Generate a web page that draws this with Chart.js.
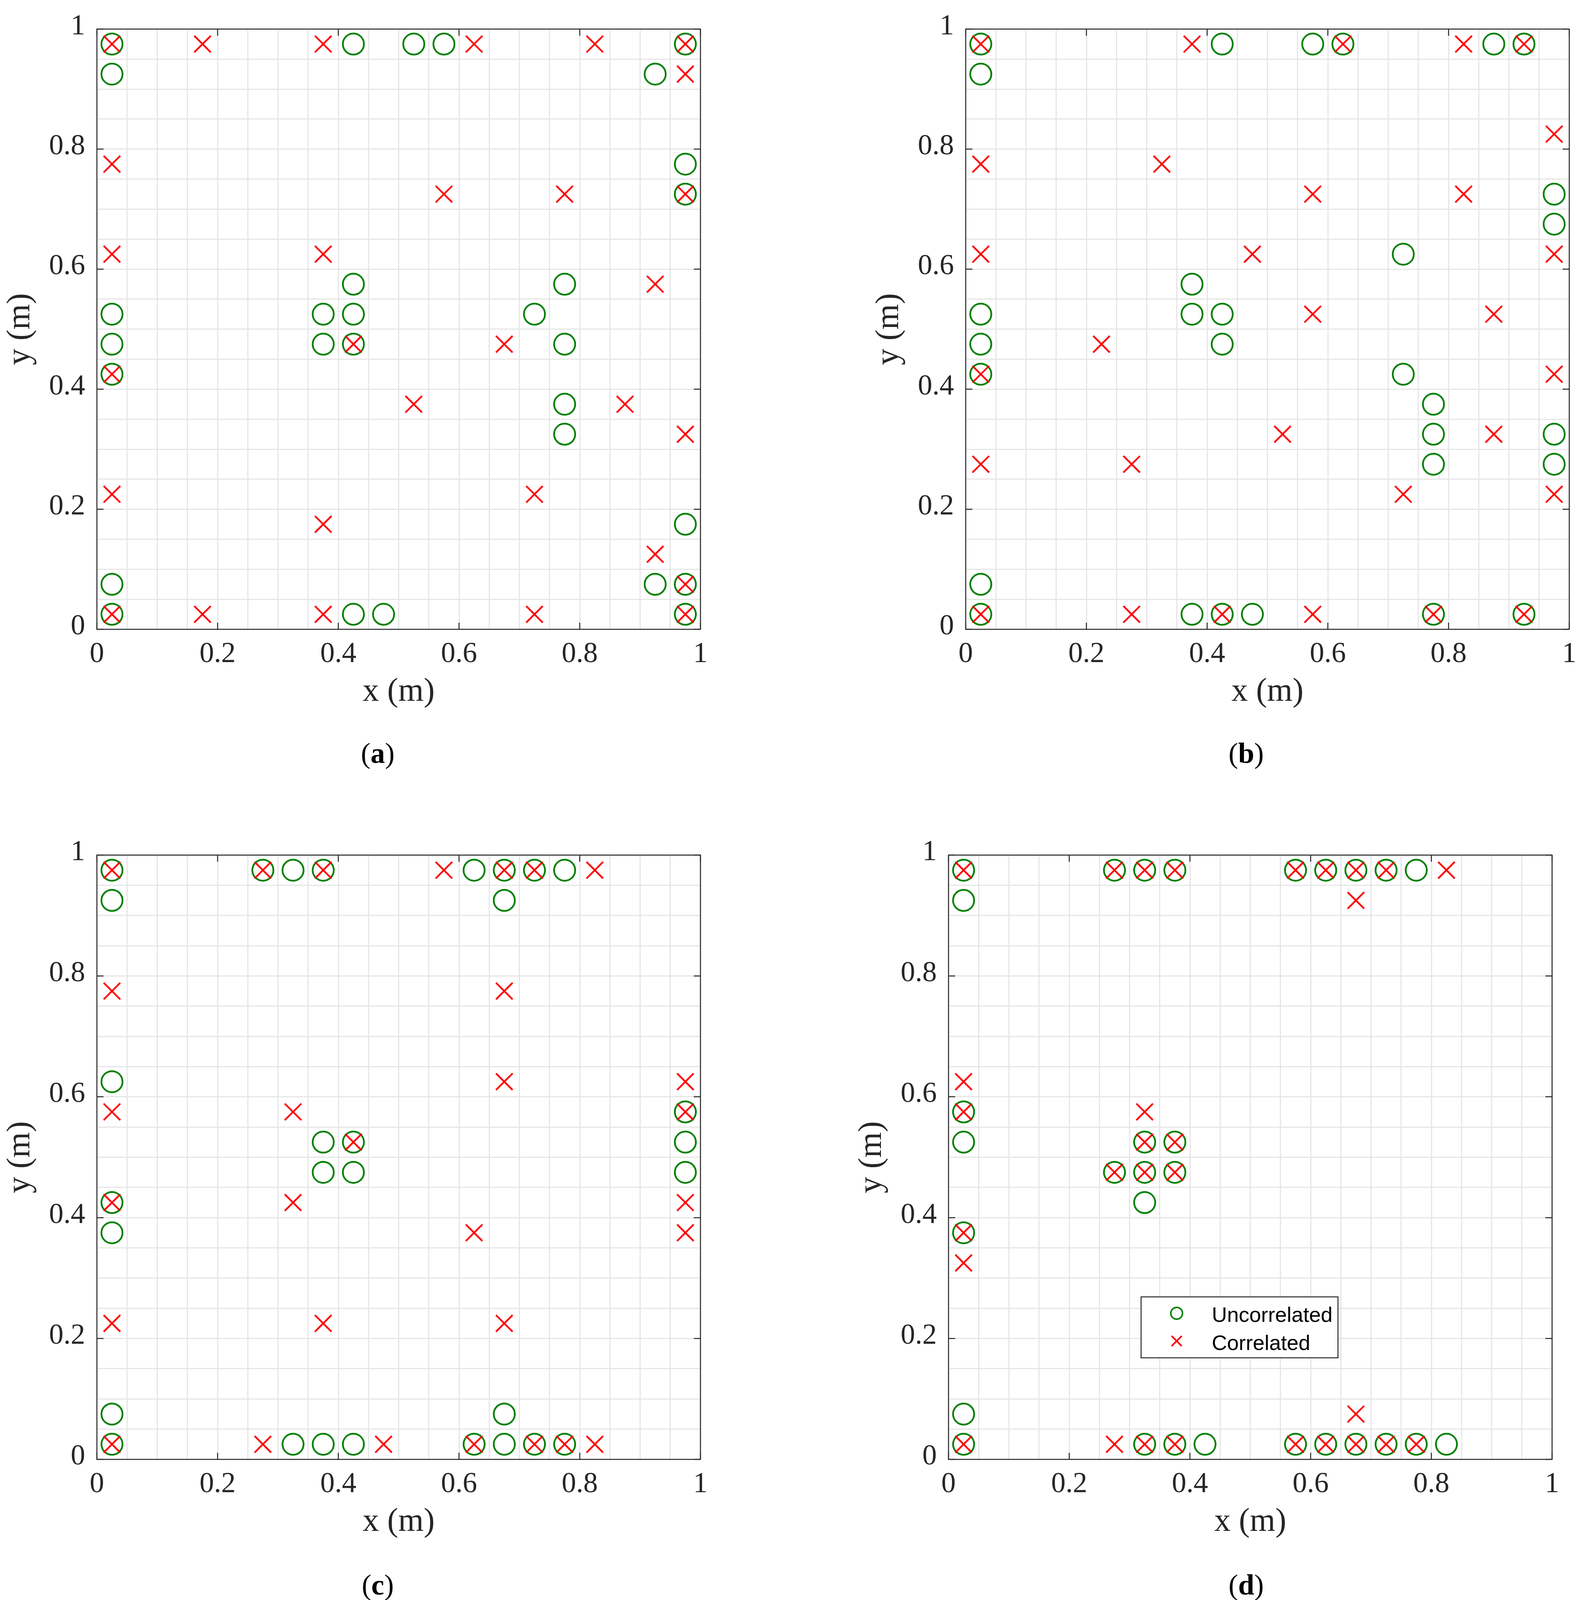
<!DOCTYPE html>
<html>
<head>
<meta charset="utf-8">
<title>Sensor placement</title>
<script src="https://cdn.jsdelivr.net/npm/chart.js@4.4.1/dist/chart.umd.min.js"></script>
<style>
html, body { margin: 0; padding: 0; background: #fff; }
body { width: 4065px; height: 4114px; position: relative; overflow: hidden; }
canvas { position: absolute; }
.cap { position: absolute; font-family: "Liberation Serif", serif; font-size: 74px; color: #000; transform: translate(-50%, -50%); white-space: nowrap; }
</style>
</head>
<body>
<canvas id="panelA" width="2033" height="1880" style="left:0px;top:0px"></canvas>
<canvas id="panelB" width="2032" height="1880" style="left:2033px;top:0px"></canvas>
<canvas id="panelC" width="2033" height="1948" style="left:0px;top:2057px"></canvas>
<canvas id="panelD" width="2032" height="1948" style="left:2033px;top:2057px"></canvas>
<div class="cap" style="left:967px;top:1928px">(<b>a</b>)</div>
<div class="cap" style="left:3190px;top:1928px">(<b>b</b>)</div>
<div class="cap" style="left:967px;top:4057px">(<b>c</b>)</div>
<div class="cap" style="left:3190px;top:4057px">(<b>d</b>)</div>
<script>
// axis ticks: grid every 0.05, labels every 0.2
const tickStep = 0.05;
const tickLabels = ['0', '0.2', '0.4', '0.6', '0.8', '1'];

// (x, y) sensor positions in metres
const aUncorrelated = [[0.025,0.975],[0.025,0.925],[0.425,0.975],[0.525,0.975],[0.575,0.975],[0.975,0.975],[0.925,0.925],[0.975,0.775],[0.975,0.725],[0.425,0.575],[0.375,0.525],[0.425,0.525],[0.375,0.475],[0.425,0.475],[0.775,0.575],[0.725,0.525],[0.775,0.475],[0.025,0.525],[0.025,0.475],[0.025,0.425],[0.775,0.375],[0.775,0.325],[0.975,0.175],[0.025,0.075],[0.925,0.075],[0.975,0.075],[0.025,0.025],[0.425,0.025],[0.475,0.025],[0.975,0.025]];
const aCorrelated = [[0.025,0.975],[0.175,0.975],[0.375,0.975],[0.625,0.975],[0.825,0.975],[0.975,0.975],[0.975,0.925],[0.025,0.775],[0.575,0.725],[0.775,0.725],[0.975,0.725],[0.025,0.625],[0.375,0.625],[0.925,0.575],[0.425,0.475],[0.675,0.475],[0.025,0.425],[0.525,0.375],[0.875,0.375],[0.975,0.325],[0.025,0.225],[0.725,0.225],[0.375,0.175],[0.925,0.125],[0.975,0.075],[0.025,0.025],[0.175,0.025],[0.375,0.025],[0.725,0.025],[0.975,0.025]];

const bUncorrelated = [[0.025,0.975],[0.425,0.975],[0.575,0.975],[0.625,0.975],[0.875,0.975],[0.925,0.975],[0.025,0.925],[0.975,0.725],[0.975,0.675],[0.725,0.625],[0.375,0.575],[0.375,0.525],[0.425,0.525],[0.425,0.475],[0.025,0.525],[0.025,0.475],[0.025,0.425],[0.725,0.425],[0.775,0.375],[0.775,0.325],[0.775,0.275],[0.975,0.325],[0.975,0.275],[0.025,0.075],[0.025,0.025],[0.375,0.025],[0.425,0.025],[0.475,0.025],[0.775,0.025],[0.925,0.025]];
const bCorrelated = [[0.025,0.975],[0.375,0.975],[0.625,0.975],[0.825,0.975],[0.925,0.975],[0.975,0.825],[0.025,0.775],[0.325,0.775],[0.575,0.725],[0.825,0.725],[0.025,0.625],[0.475,0.625],[0.975,0.625],[0.575,0.525],[0.875,0.525],[0.225,0.475],[0.025,0.425],[0.975,0.425],[0.525,0.325],[0.875,0.325],[0.025,0.275],[0.275,0.275],[0.725,0.225],[0.975,0.225],[0.025,0.025],[0.275,0.025],[0.425,0.025],[0.575,0.025],[0.775,0.025],[0.925,0.025]];

const cUncorrelated = [[0.025,0.975],[0.025,0.925],[0.275,0.975],[0.325,0.975],[0.375,0.975],[0.625,0.975],[0.675,0.975],[0.725,0.975],[0.775,0.975],[0.675,0.925],[0.025,0.625],[0.025,0.425],[0.025,0.375],[0.375,0.525],[0.425,0.525],[0.375,0.475],[0.425,0.475],[0.975,0.575],[0.975,0.525],[0.975,0.475],[0.025,0.075],[0.675,0.075],[0.025,0.025],[0.325,0.025],[0.375,0.025],[0.425,0.025],[0.625,0.025],[0.675,0.025],[0.725,0.025],[0.775,0.025]];
const cCorrelated = [[0.025,0.975],[0.275,0.975],[0.375,0.975],[0.575,0.975],[0.675,0.975],[0.725,0.975],[0.825,0.975],[0.025,0.775],[0.675,0.775],[0.675,0.625],[0.975,0.625],[0.025,0.575],[0.325,0.575],[0.975,0.575],[0.425,0.525],[0.025,0.425],[0.325,0.425],[0.975,0.425],[0.625,0.375],[0.975,0.375],[0.025,0.225],[0.375,0.225],[0.675,0.225],[0.025,0.025],[0.275,0.025],[0.475,0.025],[0.625,0.025],[0.725,0.025],[0.775,0.025],[0.825,0.025]];

const dUncorrelated = [[0.025,0.975],[0.025,0.925],[0.275,0.975],[0.325,0.975],[0.375,0.975],[0.575,0.975],[0.625,0.975],[0.675,0.975],[0.725,0.975],[0.775,0.975],[0.025,0.575],[0.025,0.525],[0.025,0.375],[0.325,0.525],[0.375,0.525],[0.275,0.475],[0.325,0.475],[0.375,0.475],[0.325,0.425],[0.025,0.075],[0.025,0.025],[0.325,0.025],[0.375,0.025],[0.425,0.025],[0.575,0.025],[0.625,0.025],[0.675,0.025],[0.725,0.025],[0.775,0.025],[0.825,0.025]];
const dCorrelated = [[0.025,0.975],[0.275,0.975],[0.325,0.975],[0.375,0.975],[0.575,0.975],[0.625,0.975],[0.675,0.975],[0.725,0.975],[0.825,0.975],[0.675,0.925],[0.025,0.625],[0.025,0.575],[0.325,0.575],[0.325,0.525],[0.375,0.525],[0.275,0.475],[0.325,0.475],[0.375,0.475],[0.025,0.375],[0.025,0.325],[0.675,0.075],[0.025,0.025],[0.275,0.025],[0.325,0.025],[0.375,0.025],[0.575,0.025],[0.625,0.025],[0.675,0.025],[0.725,0.025],[0.775,0.025]];

const seriesNames = ['Uncorrelated', 'Correlated'];

const GREEN = '#008000';
const RED = '#ff0000';
const AXIS = '#262626';
const SERIF = '"Liberation Serif", "Times New Roman", serif';
const Y_AXIS_WIDTH = 248;

Chart.defaults.font.family = SERIF;
Chart.defaults.color = AXIS;

function majorIndex(v) {
    const k = Math.round(v / tickStep);
    return (k % 4 === 0) ? k / 4 : -1;
}

// MATLAB style box with inward major ticks on all four sides
const boxPlugin = {
    id: 'boxAxes',
    afterDatasetsDraw(chart) {
        const { ctx, chartArea: a, scales } = chart;
        const len = 17;
        ctx.save();
        ctx.strokeStyle = AXIS;
        ctx.lineWidth = 2.5;
        ctx.beginPath();
        scales.x.ticks.forEach(t => {
            if (majorIndex(t.value) < 0) return;
            const px = scales.x.getPixelForValue(t.value);
            ctx.moveTo(px, a.bottom); ctx.lineTo(px, a.bottom - len);
            ctx.moveTo(px, a.top); ctx.lineTo(px, a.top + len);
        });
        scales.y.ticks.forEach(t => {
            if (majorIndex(t.value) < 0) return;
            const py = scales.y.getPixelForValue(t.value);
            ctx.moveTo(a.left, py); ctx.lineTo(a.left + len, py);
            ctx.moveTo(a.right, py); ctx.lineTo(a.right - len, py);
        });
        ctx.stroke();
        ctx.strokeRect(a.left, a.top, a.right - a.left, a.bottom - a.top);
        ctx.restore();
    }
};

// boxed legend drawn inside the axes of panel (d)
const boxLegendPlugin = {
    id: 'boxLegend',
    afterDraw(chart) {
        const { ctx, chartArea: a } = chart;
        const bx = a.left + 493, by = a.top + 1131, bw = 504, bh = 156;
        ctx.save();
        ctx.fillStyle = '#fff';
        ctx.fillRect(bx, by, bw, bh);
        ctx.strokeStyle = AXIS;
        ctx.lineWidth = 2.5;
        ctx.strokeRect(bx, by, bw, bh);
        // circle marker
        ctx.lineWidth = 4;
        ctx.strokeStyle = GREEN;
        ctx.beginPath();
        ctx.arc(bx + 91, by + 42, 15, 0, Math.PI * 2);
        ctx.stroke();
        // cross marker
        ctx.strokeStyle = RED;
        ctx.beginPath();
        ctx.moveTo(bx + 78, by + 100); ctx.lineTo(bx + 104, by + 126);
        ctx.moveTo(bx + 104, by + 100); ctx.lineTo(bx + 78, by + 126);
        ctx.stroke();
        ctx.fillStyle = '#000';
        ctx.font = '54px "Liberation Sans", Arial, sans-serif';
        ctx.textAlign = 'left';
        ctx.textBaseline = 'alphabetic';
        ctx.fillText(seriesNames[0], bx + 181, by + 64);
        ctx.fillText(seriesNames[1], bx + 181, by + 136);
        ctx.restore();
    }
};

function axisOptions(title, isX, fixedSize) {
    return {
        type: 'linear',
        min: 0,
        max: 1,
        border: { display: false },
        grid: { color: '#e6e6e6', lineWidth: 3, drawTicks: false },
        ticks: {
            stepSize: tickStep,
            autoSkip: false,
            maxRotation: 0,
            padding: isX ? 20 : 30,
            labelOffset: isX ? 0 : -6,
            font: { size: 74 },
            color: AXIS,
            callback: (v) => { const i = majorIndex(v); return i < 0 ? '' : tickLabels[i]; }
        },
        title: {
            display: true,
            text: title,
            font: { size: 84 },
            color: AXIS,
            padding: isX ? { top: 0, bottom: 58 } : { top: 3, bottom: 0 }
        },
        afterFit: (scale) => { if (isX) scale.height = fixedSize; else scale.width = fixedSize; }
    };
}

function createPanel(canvasId, uncorrelated, correlated, area, withLegend) {
    const canvas = document.getElementById(canvasId);
    const ctx = canvas.getContext('2d');
    const plugins = [boxPlugin];
    if (withLegend) plugins.push(boxLegendPlugin);
    return new Chart(ctx, {
        type: 'scatter',
        data: {
            datasets: [
                {
                    label: seriesNames[0],
                    data: uncorrelated.map(p => ({ x: p[0], y: p[1] })),
                    pointStyle: 'circle',
                    pointRadius: 27,
                    pointBorderWidth: 4.5,
                    borderColor: GREEN,
                    backgroundColor: 'rgba(0,0,0,0)',
                    order: 2
                },
                {
                    label: seriesNames[1],
                    data: correlated.map(p => ({ x: p[0], y: p[1] })),
                    pointStyle: 'crossRot',
                    pointRadius: 30,
                    pointBorderWidth: 4.5,
                    borderColor: RED,
                    backgroundColor: RED,
                    order: 1
                }
            ]
        },
        options: {
            responsive: false,
            animation: false,
            devicePixelRatio: 1,
            events: [],
            layout: { padding: { left: area.left - Y_AXIS_WIDTH, top: area.top, right: canvas.width - area.right, bottom: 0 } },
            plugins: { legend: { display: false }, tooltip: { enabled: false } },
            scales: {
                x: axisOptions('x (m)', true, canvas.height - area.bottom),
                y: axisOptions('y (m)', false, Y_AXIS_WIDTH)
            }
        },
        plugins: plugins
    });
}

createPanel('panelA', aUncorrelated, aCorrelated, { left: 248, top: 64, right: 1793, bottom: 1611 }, false);
createPanel('panelB', bUncorrelated, bCorrelated, { left: 439, top: 64, right: 1984, bottom: 1611 }, false);
createPanel('panelC', cUncorrelated, cCorrelated, { left: 248, top: 132, right: 1793, bottom: 1679 }, false);
createPanel('panelD', dUncorrelated, dCorrelated, { left: 395, top: 132, right: 1940, bottom: 1679 }, true);
</script>
</body>
</html>
